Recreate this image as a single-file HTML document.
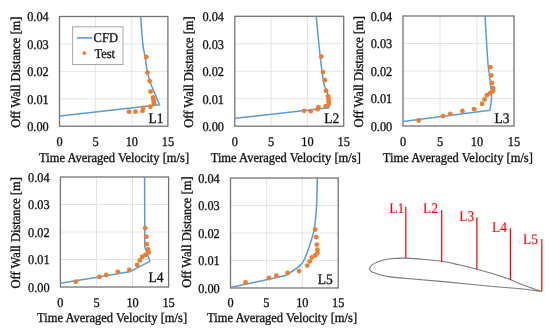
<!DOCTYPE html><html><head><meta charset="utf-8"><style>html,body{margin:0;padding:0;background:#fff;width:550px;height:329px;overflow:hidden}svg{display:block;will-change:transform}text{font-family:"Liberation Serif",serif;fill:#111;stroke:#111;stroke-width:0.3px;text-rendering:geometricPrecision}</style></head><body>
<svg width="550" height="329" viewBox="0 0 550 329">
<rect width="550" height="329" fill="#fff"/>
<path d="M95.63 16.50V126.20 M131.77 16.50V126.20 M59.50 98.78H167.90 M59.50 71.35H167.90 M59.50 43.92H167.90" stroke="#e4e4e4" stroke-width="1" fill="none"/>
<rect x="59.50" y="16.50" width="108.40" height="109.70" fill="none" stroke="#737373" stroke-width="1.3"/>
<path d="M60.0 116.0 L159.6 104.8 C158.2 101.3 152.9 89.3 150.9 84.0 C148.9 78.7 148.5 77.2 147.5 72.7 C146.5 68.2 145.8 61.5 145.0 56.7 C144.2 51.9 143.5 50.6 142.8 43.9 C142.1 37.2 141.0 21.1 140.7 16.5" stroke="#5b9bd5" stroke-width="1.5" fill="none" stroke-linejoin="round"/>
<circle cx="146.3" cy="57.0" r="2.4" fill="#ed7d31"/>
<circle cx="147.5" cy="72.7" r="2.4" fill="#ed7d31"/>
<circle cx="149.7" cy="81.1" r="2.4" fill="#ed7d31"/>
<circle cx="150.6" cy="91.6" r="2.4" fill="#ed7d31"/>
<circle cx="153.1" cy="97.4" r="2.4" fill="#ed7d31"/>
<circle cx="153.4" cy="99.5" r="2.4" fill="#ed7d31"/>
<circle cx="153.7" cy="101.6" r="2.4" fill="#ed7d31"/>
<circle cx="154.0" cy="103.4" r="2.4" fill="#ed7d31"/>
<circle cx="150.3" cy="106.7" r="2.4" fill="#ed7d31"/>
<circle cx="143.2" cy="107.8" r="2.4" fill="#ed7d31"/>
<circle cx="142.5" cy="110.8" r="2.4" fill="#ed7d31"/>
<circle cx="135.5" cy="111.7" r="2.4" fill="#ed7d31"/>
<circle cx="129.0" cy="111.7" r="2.4" fill="#ed7d31"/>
<text transform="translate(48.70 131.00) scale(1 1.08)" font-size="12.3" text-anchor="end">0.00</text>
<text transform="translate(48.70 103.58) scale(1 1.08)" font-size="12.3" text-anchor="end">0.01</text>
<text transform="translate(48.70 76.15) scale(1 1.08)" font-size="12.3" text-anchor="end">0.02</text>
<text transform="translate(48.70 48.72) scale(1 1.08)" font-size="12.3" text-anchor="end">0.03</text>
<text transform="translate(48.70 21.30) scale(1 1.08)" font-size="12.3" text-anchor="end">0.04</text>
<text transform="translate(59.50 145.80) scale(1 1.08)" font-size="12.3" text-anchor="middle">0</text>
<text transform="translate(95.63 145.80) scale(1 1.08)" font-size="12.3" text-anchor="middle">5</text>
<text transform="translate(131.77 145.80) scale(1 1.08)" font-size="12.3" text-anchor="middle">10</text>
<text transform="translate(167.90 145.80) scale(1 1.08)" font-size="12.3" text-anchor="middle">15</text>
<text transform="translate(39.00 161.90) scale(1 1.08)" font-size="12.5">Time Averaged Velocity [m/s]</text>
<text transform="translate(19.8 72.2) rotate(-90) scale(1 1.08)" x="0" y="0" font-size="12.5" text-anchor="middle">Off Wall Distance [m]</text>
<text transform="translate(148.60 123.00) scale(1 1.08)" font-size="13.5">L1</text>
<path d="M271.10 16.30V126.20 M307.40 16.30V126.20 M234.80 98.72H343.70 M234.80 71.25H343.70 M234.80 43.77H343.70" stroke="#e4e4e4" stroke-width="1" fill="none"/>
<rect x="234.80" y="16.30" width="108.90" height="109.90" fill="none" stroke="#737373" stroke-width="1.3"/>
<path d="M234.8 118.3 L329.0 107.8 C328.7 105.3 328.2 96.8 327.4 92.8 C326.6 88.8 325.2 90.0 324.0 84.0 C322.8 78.0 321.5 67.9 320.2 56.6 C318.9 45.3 316.9 23.0 316.2 16.3" stroke="#5b9bd5" stroke-width="1.5" fill="none" stroke-linejoin="round"/>
<circle cx="321.3" cy="56.6" r="2.4" fill="#ed7d31"/>
<circle cx="323.0" cy="72.1" r="2.4" fill="#ed7d31"/>
<circle cx="325.0" cy="80.2" r="2.4" fill="#ed7d31"/>
<circle cx="326.0" cy="90.7" r="2.4" fill="#ed7d31"/>
<circle cx="328.0" cy="96.2" r="2.4" fill="#ed7d31"/>
<circle cx="328.5" cy="99.0" r="2.4" fill="#ed7d31"/>
<circle cx="328.7" cy="101.7" r="2.4" fill="#ed7d31"/>
<circle cx="329.0" cy="103.7" r="2.4" fill="#ed7d31"/>
<circle cx="325.7" cy="106.2" r="2.4" fill="#ed7d31"/>
<circle cx="318.5" cy="107.1" r="2.4" fill="#ed7d31"/>
<circle cx="317.5" cy="109.2" r="2.4" fill="#ed7d31"/>
<circle cx="310.7" cy="111.2" r="2.4" fill="#ed7d31"/>
<circle cx="304.1" cy="110.8" r="2.4" fill="#ed7d31"/>
<text transform="translate(224.00 131.00) scale(1 1.08)" font-size="12.3" text-anchor="end">0.00</text>
<text transform="translate(224.00 103.52) scale(1 1.08)" font-size="12.3" text-anchor="end">0.01</text>
<text transform="translate(224.00 76.05) scale(1 1.08)" font-size="12.3" text-anchor="end">0.02</text>
<text transform="translate(224.00 48.57) scale(1 1.08)" font-size="12.3" text-anchor="end">0.03</text>
<text transform="translate(224.00 21.10) scale(1 1.08)" font-size="12.3" text-anchor="end">0.04</text>
<text transform="translate(234.80 145.80) scale(1 1.08)" font-size="12.3" text-anchor="middle">0</text>
<text transform="translate(271.10 145.80) scale(1 1.08)" font-size="12.3" text-anchor="middle">5</text>
<text transform="translate(307.40 145.80) scale(1 1.08)" font-size="12.3" text-anchor="middle">10</text>
<text transform="translate(343.70 145.80) scale(1 1.08)" font-size="12.3" text-anchor="middle">15</text>
<text transform="translate(210.70 161.90) scale(1 1.08)" font-size="12.5">Time Averaged Velocity [m/s]</text>
<text transform="translate(193.4 72.0) rotate(-90) scale(1 1.08)" x="0" y="0" font-size="12.5" text-anchor="middle">Off Wall Distance [m]</text>
<text transform="translate(324.20 123.10) scale(1 1.08)" font-size="13.5">L2</text>
<path d="M440.00 16.00V126.00 M477.00 16.00V126.00 M403.00 98.50H514.00 M403.00 71.00H514.00 M403.00 43.50H514.00" stroke="#e4e4e4" stroke-width="1" fill="none"/>
<rect x="403.00" y="16.00" width="111.00" height="110.00" fill="none" stroke="#737373" stroke-width="1.3"/>
<path d="M403.0 121.6 L490.0 110.3 C490.2 108.2 491.4 101.7 491.5 98.0 C491.6 94.3 491.2 91.7 490.9 88.0 C490.6 84.3 489.9 79.7 489.5 76.0 C489.1 72.3 488.6 70.7 488.2 66.0 C487.8 61.3 487.4 56.3 486.9 48.0 C486.4 39.7 485.4 21.3 485.1 16.0" stroke="#5b9bd5" stroke-width="1.5" fill="none" stroke-linejoin="round"/>
<circle cx="490.4" cy="67.2" r="2.4" fill="#ed7d31"/>
<circle cx="491.3" cy="75.3" r="2.4" fill="#ed7d31"/>
<circle cx="491.9" cy="82.9" r="2.4" fill="#ed7d31"/>
<circle cx="493.1" cy="87.9" r="2.4" fill="#ed7d31"/>
<circle cx="493.1" cy="91.0" r="2.4" fill="#ed7d31"/>
<circle cx="490.0" cy="93.2" r="2.4" fill="#ed7d31"/>
<circle cx="487.0" cy="95.2" r="2.4" fill="#ed7d31"/>
<circle cx="484.6" cy="99.5" r="2.4" fill="#ed7d31"/>
<circle cx="482.0" cy="103.9" r="2.4" fill="#ed7d31"/>
<circle cx="474.1" cy="109.2" r="2.4" fill="#ed7d31"/>
<circle cx="462.4" cy="111.0" r="2.4" fill="#ed7d31"/>
<circle cx="450.3" cy="113.8" r="2.4" fill="#ed7d31"/>
<circle cx="443.0" cy="116.1" r="2.4" fill="#ed7d31"/>
<circle cx="418.7" cy="120.5" r="2.4" fill="#ed7d31"/>
<text transform="translate(392.20 130.80) scale(1 1.08)" font-size="12.3" text-anchor="end">0.00</text>
<text transform="translate(392.20 103.30) scale(1 1.08)" font-size="12.3" text-anchor="end">0.01</text>
<text transform="translate(392.20 75.80) scale(1 1.08)" font-size="12.3" text-anchor="end">0.02</text>
<text transform="translate(392.20 48.30) scale(1 1.08)" font-size="12.3" text-anchor="end">0.03</text>
<text transform="translate(392.20 20.80) scale(1 1.08)" font-size="12.3" text-anchor="end">0.04</text>
<text transform="translate(403.00 145.80) scale(1 1.08)" font-size="12.3" text-anchor="middle">0</text>
<text transform="translate(440.00 145.80) scale(1 1.08)" font-size="12.3" text-anchor="middle">5</text>
<text transform="translate(477.00 145.80) scale(1 1.08)" font-size="12.3" text-anchor="middle">10</text>
<text transform="translate(514.00 145.80) scale(1 1.08)" font-size="12.3" text-anchor="middle">15</text>
<text transform="translate(382.80 162.00) scale(1 1.08)" font-size="12.5">Time Averaged Velocity [m/s]</text>
<text transform="translate(363.4 71.8) rotate(-90) scale(1 1.08)" x="0" y="0" font-size="12.5" text-anchor="middle">Off Wall Distance [m]</text>
<text transform="translate(494.50 123.10) scale(1 1.08)" font-size="13.5">L3</text>
<path d="M96.47 177.00V287.00 M132.53 177.00V287.00 M60.40 259.50H168.60 M60.40 232.00H168.60 M60.40 204.50H168.60" stroke="#e4e4e4" stroke-width="1" fill="none"/>
<rect x="60.40" y="177.00" width="108.20" height="110.00" fill="none" stroke="#737373" stroke-width="1.3"/>
<path d="M60.5 283.2 L98.6 276.9 L129.2 271.8 L149.9 261.3 L144.8 247.1 C144.8 235.4 144.6 188.7 144.6 177.0" stroke="#5b9bd5" stroke-width="1.5" fill="none" stroke-linejoin="round"/>
<circle cx="145.2" cy="228.2" r="2.4" fill="#ed7d31"/>
<circle cx="146.3" cy="236.7" r="2.4" fill="#ed7d31"/>
<circle cx="146.7" cy="244.2" r="2.4" fill="#ed7d31"/>
<circle cx="148.0" cy="249.4" r="2.4" fill="#ed7d31"/>
<circle cx="148.5" cy="252.4" r="2.4" fill="#ed7d31"/>
<circle cx="145.3" cy="254.9" r="2.4" fill="#ed7d31"/>
<circle cx="142.1" cy="256.9" r="2.4" fill="#ed7d31"/>
<circle cx="139.8" cy="260.4" r="2.4" fill="#ed7d31"/>
<circle cx="137.1" cy="264.9" r="2.4" fill="#ed7d31"/>
<circle cx="129.3" cy="270.0" r="2.4" fill="#ed7d31"/>
<circle cx="117.8" cy="271.8" r="2.4" fill="#ed7d31"/>
<circle cx="106.2" cy="275.0" r="2.4" fill="#ed7d31"/>
<circle cx="99.4" cy="276.9" r="2.4" fill="#ed7d31"/>
<circle cx="75.8" cy="281.7" r="2.4" fill="#ed7d31"/>
<text transform="translate(49.60 291.80) scale(1 1.08)" font-size="12.3" text-anchor="end">0.00</text>
<text transform="translate(49.60 264.30) scale(1 1.08)" font-size="12.3" text-anchor="end">0.01</text>
<text transform="translate(49.60 236.80) scale(1 1.08)" font-size="12.3" text-anchor="end">0.02</text>
<text transform="translate(49.60 209.30) scale(1 1.08)" font-size="12.3" text-anchor="end">0.03</text>
<text transform="translate(49.60 181.80) scale(1 1.08)" font-size="12.3" text-anchor="end">0.04</text>
<text transform="translate(60.40 306.50) scale(1 1.08)" font-size="12.3" text-anchor="middle">0</text>
<text transform="translate(96.47 306.50) scale(1 1.08)" font-size="12.3" text-anchor="middle">5</text>
<text transform="translate(132.53 306.50) scale(1 1.08)" font-size="12.3" text-anchor="middle">10</text>
<text transform="translate(168.60 306.50) scale(1 1.08)" font-size="12.3" text-anchor="middle">15</text>
<text transform="translate(37.00 321.50) scale(1 1.08)" font-size="12.5">Time Averaged Velocity [m/s]</text>
<text transform="translate(19.9 232.8) rotate(-90) scale(1 1.08)" x="0" y="0" font-size="12.5" text-anchor="middle">Off Wall Distance [m]</text>
<text transform="translate(148.40 282.10) scale(1 1.08)" font-size="13.5">L4</text>
<path d="M266.40 178.00V288.00 M302.30 178.00V288.00 M230.50 260.50H338.20 M230.50 233.00H338.20 M230.50 205.50H338.20" stroke="#e4e4e4" stroke-width="1" fill="none"/>
<rect x="230.50" y="178.00" width="107.70" height="110.00" fill="none" stroke="#737373" stroke-width="1.3"/>
<path d="M230.5 287.5 L285.5 275.6 C288.0 273.9 297.1 268.5 300.5 265.1 C303.9 261.8 304.5 258.8 306.0 255.5 C307.5 252.2 308.5 248.9 309.6 245.5 C310.8 242.1 312.0 238.4 312.9 235.0 C313.8 231.6 314.3 229.9 314.9 225.0 C315.5 220.1 316.2 213.2 316.6 205.4 C317.0 197.6 317.2 182.6 317.3 178.0" stroke="#5b9bd5" stroke-width="1.5" fill="none" stroke-linejoin="round"/>
<circle cx="315.2" cy="229.5" r="2.4" fill="#ed7d31"/>
<circle cx="316.2" cy="237.2" r="2.4" fill="#ed7d31"/>
<circle cx="316.8" cy="244.6" r="2.4" fill="#ed7d31"/>
<circle cx="317.4" cy="249.7" r="2.4" fill="#ed7d31"/>
<circle cx="317.4" cy="252.8" r="2.4" fill="#ed7d31"/>
<circle cx="315.2" cy="255.5" r="2.4" fill="#ed7d31"/>
<circle cx="311.9" cy="257.4" r="2.4" fill="#ed7d31"/>
<circle cx="309.7" cy="261.4" r="2.4" fill="#ed7d31"/>
<circle cx="307.3" cy="265.6" r="2.4" fill="#ed7d31"/>
<circle cx="299.1" cy="271.1" r="2.4" fill="#ed7d31"/>
<circle cx="287.6" cy="273.0" r="2.4" fill="#ed7d31"/>
<circle cx="276.3" cy="275.7" r="2.4" fill="#ed7d31"/>
<circle cx="269.0" cy="278.0" r="2.4" fill="#ed7d31"/>
<circle cx="245.5" cy="282.5" r="2.4" fill="#ed7d31"/>
<text transform="translate(219.70 292.80) scale(1 1.08)" font-size="12.3" text-anchor="end">0.00</text>
<text transform="translate(219.70 265.30) scale(1 1.08)" font-size="12.3" text-anchor="end">0.01</text>
<text transform="translate(219.70 237.80) scale(1 1.08)" font-size="12.3" text-anchor="end">0.02</text>
<text transform="translate(219.70 210.30) scale(1 1.08)" font-size="12.3" text-anchor="end">0.03</text>
<text transform="translate(219.70 182.80) scale(1 1.08)" font-size="12.3" text-anchor="end">0.04</text>
<text transform="translate(230.50 306.80) scale(1 1.08)" font-size="12.3" text-anchor="middle">0</text>
<text transform="translate(266.40 306.80) scale(1 1.08)" font-size="12.3" text-anchor="middle">5</text>
<text transform="translate(302.30 306.80) scale(1 1.08)" font-size="12.3" text-anchor="middle">10</text>
<text transform="translate(338.20 306.80) scale(1 1.08)" font-size="12.3" text-anchor="middle">15</text>
<text transform="translate(207.00 321.70) scale(1 1.08)" font-size="12.5">Time Averaged Velocity [m/s]</text>
<text transform="translate(190.8 232.1) rotate(-90) scale(1 1.08)" x="0" y="0" font-size="12.5" text-anchor="middle">Off Wall Distance [m]</text>
<text transform="translate(317.80 283.70) scale(1 1.08)" font-size="13.5">L5</text>
<rect x="72.6" y="26.8" width="50.4" height="37.7" fill="#fff" stroke="#a6a6a6" stroke-width="1"/>
<path d="M76.8 37.9H92.3" stroke="#5b9bd5" stroke-width="1.6"/>
<text transform="translate(93.60 42.20) scale(1 1.08)" font-size="12.5">CFD</text>
<circle cx="84.3" cy="53.1" r="1.9" fill="#ed7d31"/>
<text transform="translate(94.40 57.80) scale(1 1.08)" font-size="12.5">Test</text>
<path d="M541.4 291.5 C537.8 290.2 525.2 285.8 520.0 283.8 C514.8 281.8 514.6 281.1 510.2 279.5 C505.8 277.9 499.4 275.7 493.8 274.0 C488.2 272.3 482.6 270.7 476.8 269.2 C471.0 267.7 464.8 266.1 458.9 264.8 C453.0 263.5 447.7 262.2 441.5 261.3 C435.3 260.4 427.9 259.7 421.8 259.2 C415.7 258.7 410.1 258.1 404.6 258.1 C399.1 258.1 393.0 258.4 388.6 259.0 C384.2 259.6 380.8 260.7 378.0 261.7 C375.2 262.7 373.5 263.8 372.0 264.9 C370.5 266.0 369.7 268.0 369.2 268.6 M369.2 268.6 C369.5 269.1 370.3 270.6 371.2 271.3 C372.1 272.1 373.1 272.5 374.8 273.1 C376.5 273.8 379.2 274.6 381.5 275.2 C383.8 275.8 383.9 276.0 388.6 276.6 C393.3 277.2 400.7 277.9 409.9 278.7 C419.1 279.5 430.7 280.4 443.6 281.6 C456.5 282.8 474.6 284.8 487.3 286.0 C500.0 287.2 511.0 287.9 520.0 288.8 C529.0 289.7 537.8 291.1 541.4 291.5" fill="none" stroke="#7a7a7a" stroke-width="1.1"/>
<path d="M405.8 206.7V258.1" stroke="#ff0000" stroke-width="1.2"/>
<text transform="translate(389.30 213.40) scale(1 1.08)" font-size="13.5" style="fill:#ff0000;stroke:#ff0000;stroke-width:0.1px">L1</text>
<path d="M441.7 210.0V261.9" stroke="#ff0000" stroke-width="1.2"/>
<text transform="translate(423.10 213.40) scale(1 1.08)" font-size="13.5" style="fill:#ff0000;stroke:#ff0000;stroke-width:0.1px">L2</text>
<path d="M476.9 217.3V269.3" stroke="#ff0000" stroke-width="1.2"/>
<text transform="translate(459.30 220.80) scale(1 1.08)" font-size="13.5" style="fill:#ff0000;stroke:#ff0000;stroke-width:0.1px">L3</text>
<path d="M510.4 228.2V279.7" stroke="#ff0000" stroke-width="1.2"/>
<text transform="translate(492.00 231.70) scale(1 1.08)" font-size="13.5" style="fill:#ff0000;stroke:#ff0000;stroke-width:0.1px">L4</text>
<path d="M541.8 239.1V291.5" stroke="#ff0000" stroke-width="1.2"/>
<text transform="translate(522.90 243.50) scale(1 1.08)" font-size="13.5" style="fill:#ff0000;stroke:#ff0000;stroke-width:0.1px">L5</text>
</svg></body></html>
